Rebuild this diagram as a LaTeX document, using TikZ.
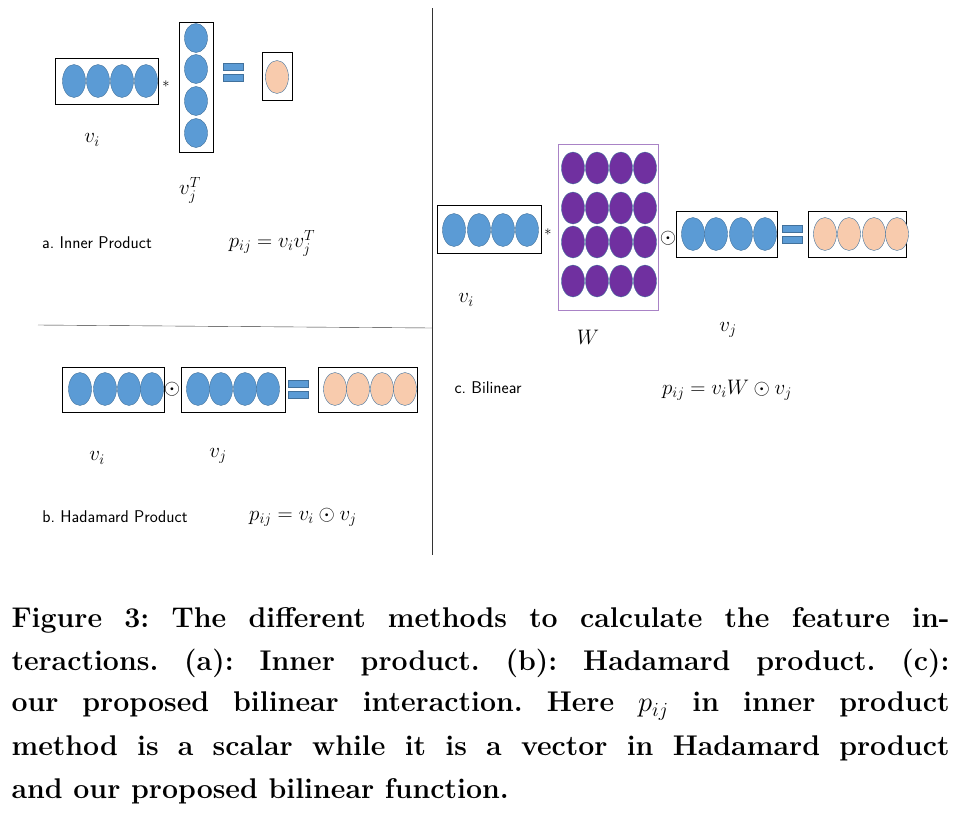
\RequirePackage{fix-cm}
\documentclass[tikz,border=0pt]{standalone}
\usepackage{amssymb}
\usetikzlibrary{positioning,shapes.geometric}
\definecolor{dotblue}{RGB}{91,155,213}
\definecolor{dotedge}{RGB}{65,113,156}
\definecolor{dotpeach}{RGB}{248,203,173}
\definecolor{dotpurple}{RGB}{112,48,160}
\tikzset{
  vecbox/.style={draw=black, thick},
  bluedot/.style={ellipse, draw=dotedge, fill=dotblue, minimum width=23pt, minimum height=33pt, inner sep=0pt},
  peachdot/.style={ellipse, draw=dotedge, fill=dotpeach, minimum width=23pt, minimum height=33pt, inner sep=0pt},
  purpledot/.style={ellipse, draw=dotedge, fill=dotpurple, minimum width=23pt, minimum height=32pt, inner sep=0pt},
  eqbar/.style={draw=dotedge, fill=dotblue},
  lab/.style={font=\fontsize{21}{24}\selectfont},
  title/.style={font=\sffamily\fontsize{17}{19}\selectfont},
  capline/.style={anchor=west, font=\bfseries\fontsize{28.5}{32}\selectfont}
}
% equals sign made of two bars
\newcommand{\eqsign}[2]{%
  \draw[eqbar] (#1-10,#2-9) rectangle (#1+10,#2-2);
  \draw[eqbar] (#1-10,#2+2) rectangle (#1+10,#2+9);}
\begin{document}
\frenchspacing
\begin{tikzpicture}[x=1pt,y=-1pt]
\useasboundingbox (0,0) rectangle (964,814);

% dividing lines
\draw[black!80] (432,8) -- (432,555);
\draw[black!80] (38,325) -- (432,328);

% a. inner product
\draw[vecbox] (55,58) rectangle (158,104);
\foreach \x in {74,98,122,146} \node[bluedot] at (\x,81) {};
\node[font=\Large] at (166,84) {$\ast$};
\draw[vecbox] (179,22) rectangle (213,152);
\foreach \y in {38,69,101,133} \node[bluedot, minimum height=29pt] at (196,\y) {};
\eqsign{233}{72}
\draw[vecbox] (262,52) rectangle (292,100);
\node[peachdot] at (277,77) {};
\node[lab] at (92,140) {$v_i$};
\node[lab] at (190,190) {$v_j^T$};
\node[title] at (97,243) {a. Inner Product};
\node[lab] at (272,243) {$p_{ij} = v_i v_j^T$};

% b. hadamard product
\draw[vecbox] (62,367) rectangle (164,412);
\foreach \x in {80,105,129,152} \node[bluedot] at (\x,389) {};
\node[lab] at (172,389) {$\odot$};
\draw[vecbox] (181,367) rectangle (285,412);
\foreach \x in {198,221,245,268} \node[bluedot] at (\x,389) {};
\eqsign{298}{389}
\draw[vecbox] (318,367) rectangle (417,412);
\foreach \x in {335,358,382,405} \node[peachdot] at (\x,389) {};
\node[lab] at (97,458) {$v_i$};
\node[lab] at (218,456) {$v_j$};
\node[title] at (115,517) {b. Hadamard Product};
\node[lab] at (303,517) {$p_{ij} = v_i \odot v_j$};

% c. bilinear
\draw[vecbox] (437,205) rectangle (541,253);
\foreach \x in {454,479,503,527} \node[bluedot] at (\x,230) {};
\node[font=\Large] at (548,232) {$\ast$};
\draw[dotpurple!60!white, thick] (558,144) rectangle (658,310);
\foreach \y in {168,208,242,281}
  \foreach \x in {573,597,621,645} \node[purpledot] at (\x,\y) {};
\node[lab] at (668,238) {$\odot$};
\draw[vecbox] (676,211) rectangle (777,257);
\foreach \x in {693,716,741,765} \node[bluedot] at (\x,234) {};
\eqsign{792}{234}
\draw[vecbox] (808,211) rectangle (906,257);
\foreach \x in {825,849,874,897} \node[peachdot] at (\x,234) {};
\node[lab] at (466,300) {$v_i$};
\node[lab] at (588,337) {$W$};
\node[lab] at (728,330) {$v_j$};
\node[title] at (488,388) {c. Bilinear};
\node[lab] at (727,390) {$p_{ij} = v_i W \odot v_j$};

% caption
\node[capline] at (8,620) {\makebox[938pt][s]{Figure 3: The different methods to calculate the feature in-}};
\node[capline] at (8,663) {\makebox[938pt][s]{teractions. (a): Inner product. (b): Hadamard product. (c):}};
\node[capline] at (8,706) {\makebox[938pt][s]{our proposed bilinear interaction. Here \mdseries$p_{ij}$\bfseries{} in inner product}};
\node[capline] at (8,748) {\makebox[938pt][s]{method is a scalar while it is a vector in Hadamard product}};
\node[capline] at (8,791) {and our proposed bilinear function.};
\end{tikzpicture}
\end{document}
